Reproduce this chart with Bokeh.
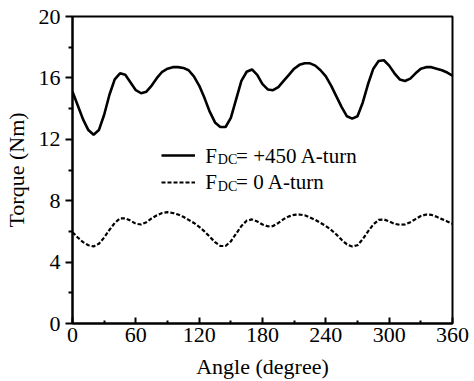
from bokeh.plotting import figure
from bokeh.models import Legend, LegendItem, Label, Range1d, FixedTicker
from bokeh.embed import file_html
from bokeh.resources import INLINE

angle = list(range(0, 361, 5))
torque_450 = [15.1, 14.2, 13.3, 12.6, 12.3, 12.6, 13.6, 14.9, 15.9, 16.3,
              16.2, 15.7, 15.2, 15.0, 15.1, 15.5, 16.0, 16.4, 16.6, 16.7,
              16.7, 16.65, 16.5, 16.1, 15.5, 14.7, 13.8, 13.1, 12.8, 12.8,
              13.4, 14.6, 15.8, 16.4, 16.55, 16.2, 15.6, 15.25, 15.2, 15.4,
              15.8, 16.2, 16.6, 16.85, 16.95, 16.95, 16.8, 16.5, 16.1, 15.5,
              14.8, 14.1, 13.5, 13.35, 13.5, 14.4, 15.6, 16.6, 17.1, 17.15,
              16.8, 16.3, 15.9, 15.8, 15.95, 16.3, 16.6, 16.7, 16.7, 16.6,
              16.5, 16.35, 16.15]
torque_0 = [5.95, 5.6, 5.3, 5.1, 5.02, 5.2, 5.6, 6.1, 6.55, 6.85,
            6.85, 6.7, 6.5, 6.45, 6.6, 6.85, 7.05, 7.2, 7.25, 7.2,
            7.1, 6.95, 6.75, 6.55, 6.3, 6.0, 5.65, 5.3, 5.05, 5.05,
            5.35, 5.85, 6.35, 6.7, 6.78, 6.65, 6.45, 6.33, 6.35, 6.55,
            6.8, 6.98, 7.08, 7.1, 7.05, 6.9, 6.75, 6.55, 6.35, 6.1,
            5.8, 5.45, 5.15, 5.02, 5.1, 5.5, 6.0, 6.45, 6.75, 6.78,
            6.65, 6.5, 6.43, 6.45, 6.6, 6.8, 7.0, 7.1, 7.08, 6.95,
            6.8, 6.65, 6.5]
x_ticks = [0, 60, 120, 180, 240, 300, 360]
y_ticks = [0, 4, 8, 12, 16, 20]
x_minor = [30, 90, 150, 210, 270, 330]
y_minor = [2, 6, 10, 14, 18]

FONT = "Liberation Serif"

p = figure(width=474, height=381, output_backend="svg", toolbar_location=None,
           x_range=Range1d(0, 360), y_range=Range1d(0, 20),
           min_border_left=69, min_border_right=22, min_border_top=16,
           min_border_bottom=58)
p.grid.visible = False
p.outline_line_color = "black"
p.outline_line_width = 2
p.background_fill_color = "white"
p.border_fill_color = "white"

r1 = p.line(angle, torque_450, line_color="black", line_width=2.6)
r2 = p.line(angle, torque_0, line_color="black", line_width=2.2, line_dash="4 2")

p.xaxis.ticker = FixedTicker(ticks=x_ticks, minor_ticks=x_minor)
p.yaxis.ticker = FixedTicker(ticks=y_ticks, minor_ticks=y_minor)
for ax in (p.xaxis, p.yaxis):
    ax.axis_line_width = 2
    ax.axis_line_color = "black"
    ax.major_tick_line_width = 2
    ax.minor_tick_line_width = 2
    ax.major_label_text_font = FONT
    ax.major_label_text_font_size = "22px"
    ax.major_label_text_color = "black"
    ax.axis_label_text_font = FONT
    ax.axis_label_text_font_size = "22px"
    ax.axis_label_text_font_style = "normal"
    ax.axis_label_text_color = "black"
# x ticks point into the plot, y ticks point outward
p.xaxis.major_tick_in = 6
p.xaxis.major_tick_out = 0
p.xaxis.minor_tick_in = 3
p.xaxis.minor_tick_out = 0
p.yaxis.major_tick_in = 0
p.yaxis.major_tick_out = 7
p.yaxis.minor_tick_in = 0
p.yaxis.minor_tick_out = 4

p.xaxis.axis_label = "Angle (degree)"
p.yaxis.axis_label = "Torque (Nm)"
p.xaxis.major_label_standoff = 4
p.yaxis.major_label_standoff = 5
p.xaxis.axis_label_standoff = 9
p.yaxis.axis_label_standoff = 7

legend = Legend(items=[LegendItem(label=" ", renderers=[r1]),
                       LegendItem(label=" ", renderers=[r2])],
                location=(89, 131), orientation="vertical",
                glyph_width=34, glyph_height=20, label_height=20,
                spacing=7, padding=0, margin=0,
                border_line_color=None, background_fill_alpha=0,
                label_text_font_size="4px")
p.add_layout(legend, "center")

legend_rows = [(10.94, "= +450 A-turn"), (9.2, "= 0 A-turn")]
for ly, rest in legend_rows:
    p.add_layout(Label(x=125.7, y=ly, text="F", text_font=FONT, text_font_size="21px",
                       text_color="black", text_baseline="middle", text_align="left"))
    p.add_layout(Label(x=137.7, y=ly - 0.26, text="DC", text_font=FONT, text_font_size="14px",
                       text_color="black", text_baseline="middle", text_align="left"))
    p.add_layout(Label(x=155.0, y=ly, text=rest, text_font=FONT, text_font_size="21px",
                       text_color="black", text_baseline="middle", text_align="left"))

open("out.html", "w").write(file_html(p, INLINE))
